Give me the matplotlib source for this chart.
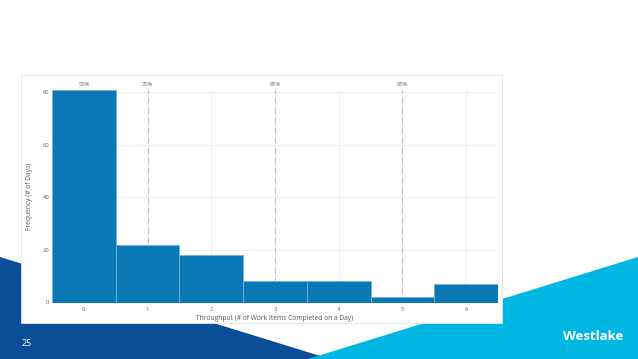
import matplotlib
matplotlib.use('Agg')
import matplotlib.pyplot as plt
from matplotlib.patches import Polygon, Rectangle

plt.rcParams['font.family'] = ['Open Sans', 'DejaVu Sans']

# data
throughput = [0, 1, 2, 3, 4, 5, 6]
days = [81, 22, 18, 8, 8, 2, 7]
pct_labels = ['50%', '70%', '85%', '95%']
pct_values = [0, 1, 3, 5]
y_ticks = [0, 20, 40, 60, 80]

W, H = 638, 359
BAR = '#0A78B5'
DARK = '#0A4E97'
CYAN = '#00B7E3'
TXT = '#666666'

fig = plt.figure(figsize=(W / 100, H / 100), dpi=100)
fig.patch.set_facecolor('white')

def px(x, y):
    return (x / W, 1 - y / H)

# slide decoration
fig.patches.append(Polygon([px(0, 257), px(330, 359), px(0, 359)], closed=True,
                           transform=fig.transFigure, facecolor=DARK, edgecolor='none', zorder=0))
fig.patches.append(Polygon([px(308, 359), px(638, 257), px(638, 359)], closed=True,
                           transform=fig.transFigure, facecolor=CYAN, edgecolor='none', zorder=0))
fig.patches.append(Rectangle(px(21, 323), (502 - 21) / W, (323 - 75) / H,
                             transform=fig.transFigure, facecolor='white',
                             edgecolor='#e4e4e4', linewidth=0.6, zorder=0.5))

ax = fig.add_axes([52 / W, 1 - 302.5 / H, (498 - 52) / W, (302.5 - 89.5) / H])
ax.set_facecolor('white')
ax.set_zorder(1)

for v in pct_values:
    ax.axvline(v, color='#bbbbbb', linestyle=(0, (5, 4)), linewidth=0.8, zorder=1)

ax.bar(throughput, days, width=1.0, color=BAR, edgecolor='#6fb3dc', linewidth=0.6, zorder=2)

ax.set_xlim(-0.5, 6.5)
ax.set_ylim(0, 81)
ax.set_xticks(throughput)
ax.set_yticks(y_ticks)
ax.grid(True, color='#eeeeee', linewidth=0.7, zorder=0)
ax.set_axisbelow(True)
for s in ax.spines.values():
    s.set_visible(False)
ax.tick_params(length=0, labelsize=4.2, labelcolor=TXT)
ax.tick_params(axis='x', pad=3)
ax.tick_params(axis='y', pad=2)

ax.set_xlabel('Throughput (# of Work Items Completed on a Day)', fontsize=4.8, color='#555555', labelpad=2.5)
ax.set_ylabel('Frequency (# of Days)', fontsize=4.8, color='#555555', labelpad=7)

for lab, v in zip(pct_labels, pct_values):
    ax.text(v, 1.012, lab, transform=ax.get_xaxis_transform(), ha='center', va='bottom',
            fontsize=4.2, color=TXT)

fig.text(27 / W, 1 - 344 / H, '25', color='white', fontsize=6.5, ha='center', va='center')
fig.text(593 / W, 1 - 337 / H, 'Westlake', color='white', fontsize=9.5, fontweight='bold',
         ha='center', va='center')

fig.savefig('out.png', dpi=100)
